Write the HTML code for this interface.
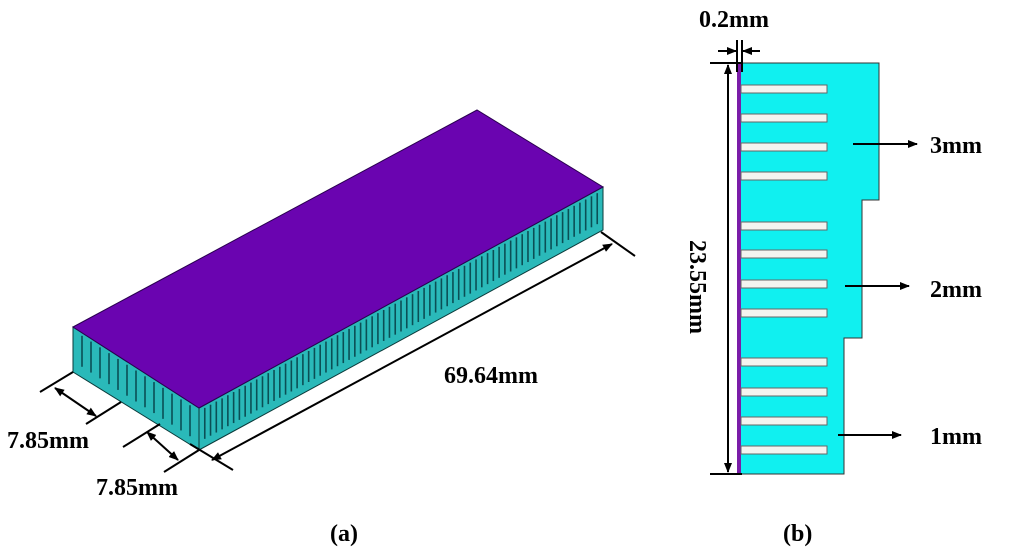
<!DOCTYPE html>
<html><head><meta charset="utf-8"><style>
html,body{margin:0;padding:0;background:#fff;width:1025px;height:557px;overflow:hidden}
svg{display:block}
text{font-family:"Liberation Serif",serif;font-weight:bold;fill:#000}
</style></head><body>
<svg width="1025" height="557" viewBox="0 0 1025 557">
<defs>
<marker id="ar" markerWidth="10" markerHeight="8" refX="9" refY="4" orient="auto-start-reverse" markerUnits="userSpaceOnUse"><path d="M0,0 L10,4 L0,8 Z" fill="#000"/></marker>
</defs>
<g>
  <polygon points="73,327 199,408 199,450 73,372" fill="#2ab9b9" stroke="#0a3a3a" stroke-width="1"/>
  <polygon points="199,408 603,187 603,230 199,450" fill="#2ab9b9" stroke="#0a3a3a" stroke-width="1"/>
  <g id="fins" stroke="#0b4f55" stroke-width="1.6"></g>
  <polygon points="73,327 477,110 603,187 199,408" fill="#6a04b0" stroke="#2a0050" stroke-width="1"/>
  <g stroke="#000" stroke-width="2" fill="none">
    <line x1="190" y1="444" x2="233" y2="470"/>
    <line x1="601" y1="232" x2="635" y2="256"/>
    <line x1="212" y1="460" x2="612" y2="244" marker-start="url(#ar)" marker-end="url(#ar)"/>
  </g>
  <text x="444" y="383" font-size="24">69.64mm</text>
  <g stroke="#000" stroke-width="2" fill="none">
    <line x1="73" y1="372" x2="40" y2="392"/>
    <line x1="121" y1="402" x2="86" y2="424"/>
    <line x1="55" y1="388" x2="96" y2="416" marker-start="url(#ar)" marker-end="url(#ar)"/>
  </g>
  <text x="7" y="448" font-size="24">7.85mm</text>
  <g stroke="#000" stroke-width="2" fill="none">
    <line x1="160" y1="424" x2="123" y2="447"/>
    <line x1="199" y1="450" x2="164" y2="472"/>
    <line x1="147" y1="432" x2="178" y2="460" marker-start="url(#ar)" marker-end="url(#ar)"/>
  </g>
  <text x="96" y="495" font-size="24">7.85mm</text>
  <text x="330" y="541" font-size="24">(a)</text>
</g>
<g>
  <polygon points="738,63 879,63 879,200 862,200 862,338 844,338 844,474 738,474" fill="#10f0f0" stroke="#333" stroke-width="1"/>
  <rect x="737" y="63" width="4" height="411" fill="#7a1ca8"/>
  <g id="slots"></g>
  <g stroke="#000" stroke-width="2" fill="none">
    <line x1="710" y1="63" x2="742" y2="63"/>
    <line x1="710" y1="474" x2="742" y2="474"/>
    <line x1="728" y1="65" x2="728" y2="472" marker-start="url(#ar)" marker-end="url(#ar)"/>
    <line x1="737" y1="40" x2="737" y2="72"/>
    <line x1="742" y1="40" x2="742" y2="72"/>
    <line x1="718" y1="51" x2="736" y2="51" marker-end="url(#ar)"/>
    <line x1="760" y1="51" x2="743" y2="51" marker-end="url(#ar)"/>
  </g>
  <text x="699" y="27" font-size="24">0.2mm</text>
  <text transform="translate(690,240) rotate(90)" font-size="24">23.55mm</text>
  <g stroke="#000" stroke-width="2">
    <line x1="853" y1="144" x2="917" y2="144" marker-end="url(#ar)"/>
    <line x1="845" y1="286" x2="909" y2="286" marker-end="url(#ar)"/>
    <line x1="838" y1="435" x2="901" y2="435" marker-end="url(#ar)"/>
  </g>
  <text x="930" y="153" font-size="24">3mm</text>
  <text x="930" y="297" font-size="24">2mm</text>
  <text x="930" y="444" font-size="24">1mm</text>
  <text x="783" y="541" font-size="24">(b)</text>
</g>
</svg>
<script>
const NS='http://www.w3.org/2000/svg';
const slotY=[89,118,147,176,226,254,284,313,362,392,421,450];
const sg=document.getElementById('slots');
slotY.forEach(y=>{
  const r=document.createElementNS(NS,'rect');
  r.setAttribute('x',741);r.setAttribute('y',y-4);r.setAttribute('width',86);r.setAttribute('height',8);
  r.setAttribute('fill','#f4f4f0');r.setAttribute('stroke','#666');r.setAttribute('stroke-width','1');
  
  
  sg.appendChild(r);
});
const fg=document.getElementById('fins');
function addFins(x0,y0,x1,y1,n,h){
  for(let i=1;i<n;i++){
    const t=i/n, x=x0+(x1-x0)*t, y=y0+(y1-y0)*t;
    const l=document.createElementNS(NS,'line');
    l.setAttribute('x1',x);l.setAttribute('y1',y+3);l.setAttribute('x2',x);l.setAttribute('y2',y+h);
    
    
    fg.appendChild(l);
  }
}
addFins(73,327,199,408,14,34);
addFins(199,408,603,187,70,34);
</script>
</body></html>
